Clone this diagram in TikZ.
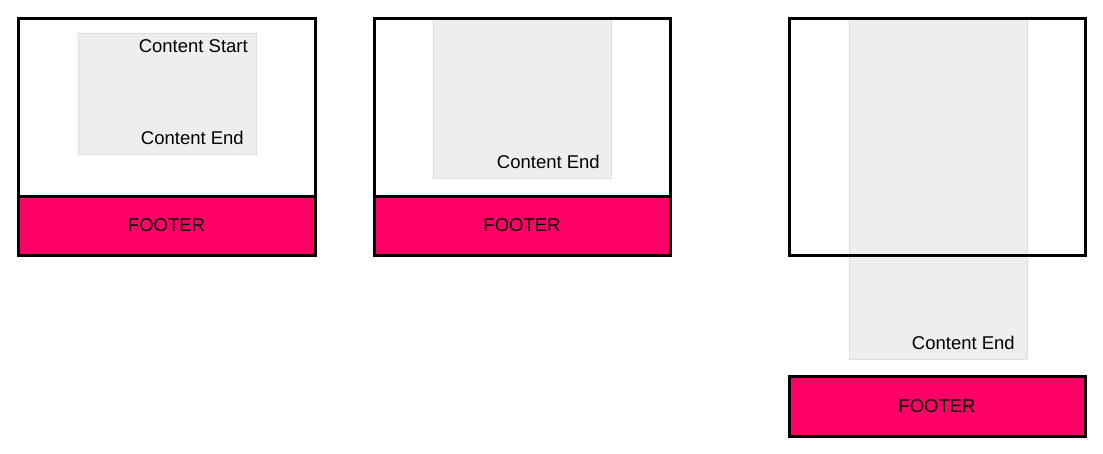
\documentclass[tikz,border=0pt]{standalone}
\usepackage{fontspec}
\setmainfont{Liberation Sans}
\definecolor{contentgray}{HTML}{EEEEEE}
\definecolor{contentline}{HTML}{DDDDDD}
\definecolor{footerpink}{HTML}{FF0066}
\begin{document}
\begin{tikzpicture}[x=1pt,y=-1pt,
  frame/.style={draw=black,line width=3pt,fill=none,inner sep=0pt,outer sep=0pt,anchor=north west},
  footerbox/.style={draw=black,line width=3pt,fill=footerpink,inner sep=0pt,outer sep=0pt,anchor=north west,
    font=\fontsize{18.5}{20}\selectfont},
  contentbox/.style={draw=contentline,line width=1pt,fill=contentgray,inner sep=0pt,outer sep=0pt,anchor=north west},
  label/.style={inner sep=0pt,anchor=east,font=\fontsize{18.5}{20}\selectfont}]
\useasboundingbox[fill=white] (0,0) rectangle (1103,453);
% panel 1
\node[frame,minimum width=297pt,minimum height=237pt] (f1) at (18,18) {};
\node[contentbox,minimum width=178pt,minimum height=121pt] (c1) at (78,33) {};
\node[label] (s1) at (248,46) {Content Start};
\node[label] (e1) at (244,138) {Content End};
\node[footerbox,minimum width=297pt,minimum height=59pt] (ft1) at (18,196) {FOOTER};
% panel 2
\node[contentbox,minimum width=178pt,minimum height=160pt] (c2) at (433,18) {};
\node[frame,minimum width=296pt,minimum height=237pt] (f2) at (374,18) {};
\node[label] (e2) at (600,162) {Content End};
\node[footerbox,minimum width=296pt,minimum height=59pt] (ft2) at (374,196) {FOOTER};
% panel 3
\node[contentbox,minimum width=178pt,minimum height=341pt] (c3) at (849,18) {};
\node[frame,minimum width=296pt,minimum height=237pt] (f3) at (789,18) {};
\node[label] (e3) at (1015,343) {Content End};
\node[footerbox,minimum width=296pt,minimum height=60pt] (ft3) at (789,376) {FOOTER};
\end{tikzpicture}
\end{document}
